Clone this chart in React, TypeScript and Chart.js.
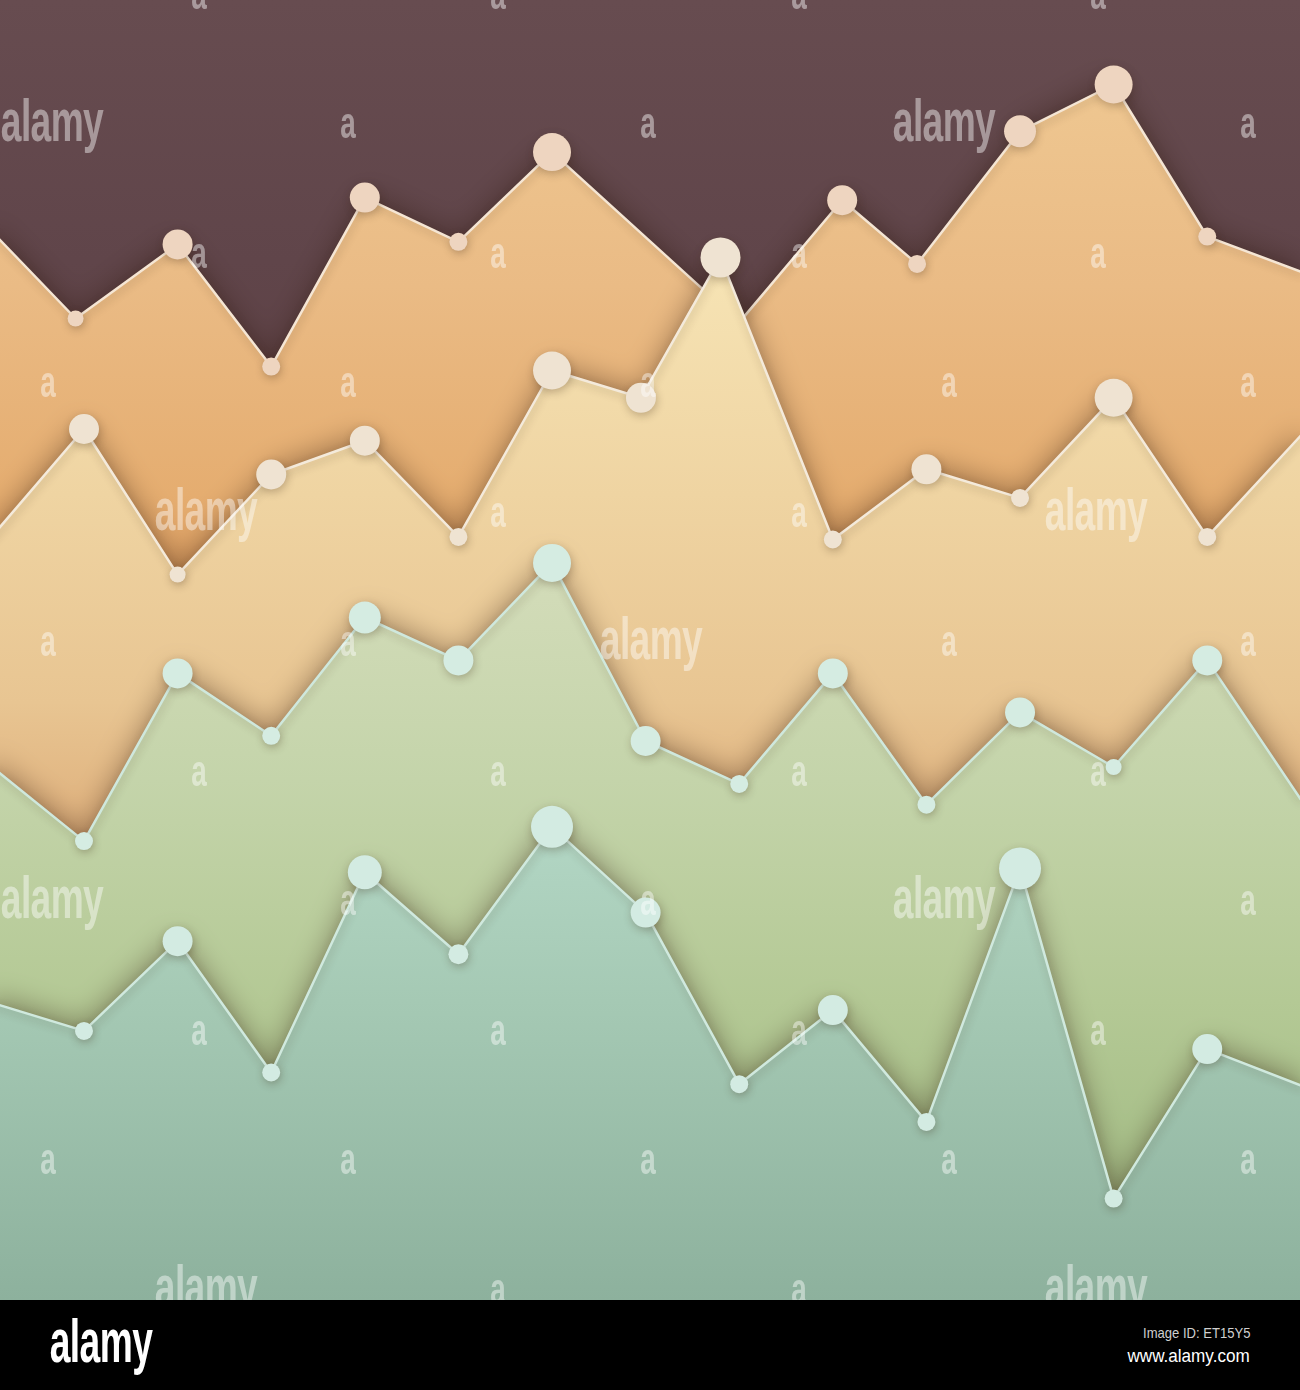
import React, { useEffect, useRef } from "react";
import { Chart, registerables } from "chart.js";

Chart.register(...registerables);

// ---- data (x in category-step units, y in value units 0..100) ----
const orangeX = [0, 0.91, 2, 3, 4, 5, 6, 8, 9.1, 9.9, 11, 12, 13, 14];
const orangeY = [82.3, 75.5, 81.2, 71.8, 84.8, 81.4, 88.3, 75.2, 84.6, 79.7, 89.9, 93.5, 81.8, 79.1];
const orangeR = [0, 8, 15, 9, 15, 9, 19, 0, 15, 9, 16, 19, 9, 0];

const sandX = [0, 1, 2, 3, 4, 5, 6, 6.95, 7.8, 9, 10, 11, 12, 13, 14];
const sandY = [58.6, 67.0, 55.8, 63.5, 66.1, 58.7, 71.5, 69.4, 80.2, 58.5, 63.9, 61.7, 69.4, 58.7, 66.5];
const sandR = [0, 15, 8, 15, 15, 9, 19, 15, 20, 9, 15, 9, 19, 9, 0];

const gridX = [0, 1, 2, 3, 4, 5, 6, 7, 8, 9, 10, 11, 12, 13, 14];
const greenY = [41.1, 35.3, 48.2, 43.4, 52.5, 49.2, 56.7, 43.0, 39.7, 48.2, 38.1, 45.2, 41.0, 49.2, 38.5];
const greenR = [0, 9, 15, 9, 16, 15, 19, 15, 9, 15, 9, 15, 8, 15, 0];

const tealY = [22.9, 20.7, 27.6, 17.5, 32.9, 26.6, 36.4, 29.8, 16.6, 22.3, 13.7, 33.2, 7.8, 19.3, 16.5];
const tealR = [0, 9, 15, 9, 17, 10, 21, 15, 9, 15, 9, 21, 9, 15, 0];

const X_MIN = 0.1026;
const X_MAX = 13.991;

function pts(xs: number[], ys: number[]) {
  return xs.map((x, i) => ({ x, y: ys[i] }));
}

function gradient(stops: [number, string][]) {
  return (context: any) => {
    const chart = context.chart;
    const area = chart.chartArea;
    if (!area) return stops[0][1];
    const g = chart.ctx.createLinearGradient(0, area.top, 0, area.bottom);
    stops.forEach(([p, c]) => g.addColorStop(p, c));
    return g;
  };
}

function setFillShadow(ctx: CanvasRenderingContext2D) {
  ctx.shadowColor = "rgba(45,22,10,0.38)";
  ctx.shadowBlur = 28;
  ctx.shadowOffsetX = 0;
  ctx.shadowOffsetY = -6;
}
function setMarkShadow(ctx: CanvasRenderingContext2D) {
  ctx.shadowColor = "rgba(60,40,20,0.28)";
  ctx.shadowBlur = 8;
  ctx.shadowOffsetX = 1;
  ctx.shadowOffsetY = 3;
}

const layerPlugin = {
  id: "layerPlugin",
  beforeDraw(chart: any) {
    const { ctx, width, height } = chart;
    const g = ctx.createLinearGradient(0, 0, 0, height);
    g.addColorStop(0, "#674c50");
    g.addColorStop(0.2, "#60454a");
    g.addColorStop(0.45, "#5b3d40");
    g.addColorStop(1, "#583a3d");
    ctx.save();
    ctx.fillStyle = g;
    ctx.fillRect(0, 0, width, height);
    ctx.restore();
  },
  beforeDatasetsDraw(chart: any) {
    chart.ctx.save();
    setFillShadow(chart.ctx);
  },
  beforeDatasetDraw(chart: any) {
    setMarkShadow(chart.ctx);
  },
  afterDatasetDraw(chart: any) {
    setFillShadow(chart.ctx);
  },
  afterDatasetsDraw(chart: any) {
    chart.ctx.restore();
  },
};

function layer(
  data: { x: number; y: number }[],
  radii: number[],
  fillStops: [number, string][],
  lineColor: string,
  pointColor: string,
  order: number
) {
  return {
    data,
    order,
    fill: "start",
    backgroundColor: gradient(fillStops),
    borderColor: lineColor,
    borderWidth: 2.5,
    borderJoinStyle: "round",
    tension: 0,
    pointRadius: radii,
    pointHoverRadius: radii,
    pointBackgroundColor: pointColor,
    pointBorderWidth: 0,
    pointBorderColor: pointColor,
  };
}

const wmOdd = [48, 348, 648, 949, 1248];
const wmEven = [199, 498, 799, 1098];
const wmWords: Record<string, number> = {
  "1:0": 4,
  "1:3": -5,
  "4:0": 7,
  "4:3": -2,
  "5:2": 3,
  "7:0": 4,
  "7:3": -5,
  "10:0": 7,
  "10:3": -2,
};

function watermarks() {
  const out: React.ReactNode[] = [];
  for (let r = 0; r <= 10; r++) {
    const cy = -3 + 129.5 * r;
    const cols = r % 2 === 1 ? wmOdd : wmEven;
    cols.forEach((cx, c) => {
      const key = `${r}:${c}`;
      const word = key in wmWords;
      const F = word ? 60 : 45;
      out.push(
        <div
          key={key}
          style={{
            position: "absolute",
            left: word ? cx + wmWords[key] : cx,
            top: cy - 0.587 * F,
            fontFamily: "'Liberation Sans', Arial, sans-serif",
            fontWeight: 700,
            fontSize: F,
            lineHeight: 1,
            whiteSpace: "nowrap",
            color: "rgba(255,255,255,0.44)",
            transform: `translateX(-50%) scaleX(${word ? 0.62 : 0.62})`,
            letterSpacing: word ? -1 : 0,
            pointerEvents: "none",
          }}
        >
          {word ? "alamy" : "a"}
        </div>
      );
    });
  }
  return out;
}

export default function App() {
  const ref = useRef<HTMLCanvasElement>(null);

  useEffect(() => {
    document.body.style.margin = "0";
    const chart = new Chart(ref.current as HTMLCanvasElement, {
      type: "line",
      data: {
        datasets: [
          layer(
            pts(orangeX, orangeY),
            orangeR,
            [
              [0.05, "#efc892"],
              [0.22, "#eabb85"],
              [0.38, "#e5ad70"],
              [0.45, "#dc9d60"],
            ],
            "#f5e6d4",
            "#eed5c0",
            4
          ) as any,
          layer(
            pts(sandX, sandY),
            sandR,
            [
              [0.19, "#f7e5b6"],
              [0.38, "#efd4a2"],
              [0.54, "#e8c592"],
              [0.66, "#ddac78"],
            ],
            "#f4eadb",
            "#efe3d2",
            3
          ) as any,
          layer(
            pts(gridX, greenY),
            greenR,
            [
              [0.44, "#d3dcb9"],
              [0.6, "#c4d4aa"],
              [0.77, "#b4c995"],
              [0.92, "#a3bc85"],
            ],
            "#cfe8dd",
            "#d5ece2",
            2
          ) as any,
          layer(
            pts(gridX, tealY),
            tealR,
            [
              [0.63, "#b3d7c5"],
              [0.77, "#a5c9b4"],
              [1.0, "#8db19d"],
            ],
            "#d0e9de",
            "#d3ebe2",
            1
          ) as any,
        ],
      },
      options: {
        responsive: false,
        animation: false,
        events: [],
        layout: { padding: 0 },
        scales: {
          x: { type: "linear", min: X_MIN, max: X_MAX, display: false },
          y: { type: "linear", min: 0, max: 100, display: false },
        },
        plugins: {
          legend: { display: false },
          tooltip: { enabled: false },
        },
      },
      plugins: [layerPlugin as any],
    });
    return () => chart.destroy();
  }, []);

  return (
    <div
      style={{
        position: "relative",
        width: 1300,
        height: 1390,
        background: "#000",
        overflow: "hidden",
      }}
    >
      <div style={{ position: "absolute", left: 0, top: 0, width: 1300, height: 1300 }}>
        <canvas ref={ref} width={1300} height={1300} style={{ display: "block" }} />
      </div>
      <div style={{ position: "absolute", left: 0, top: 0, width: 1300, height: 1300, overflow: "hidden" }}>
        {watermarks()}
      </div>
      <div
        style={{
          position: "absolute",
          left: 101,
          top: 1346 - 0.587 * 62,
          fontFamily: "'Liberation Sans', Arial, sans-serif",
          fontWeight: 700,
          fontSize: 62,
          lineHeight: 1,
          color: "#ffffff",
          whiteSpace: "nowrap",
          letterSpacing: -1,
          transform: "translateX(-50%) scaleX(0.6)",
        }}
      >
        alamy
      </div>
      <div
        style={{
          position: "absolute",
          right: 50,
          top: 1325,
          fontFamily: "'Liberation Sans', Arial, sans-serif",
          fontSize: 15,
          lineHeight: 1,
          color: "#d0d0d0",
          whiteSpace: "nowrap",
          transform: "scaleX(0.87)",
          transformOrigin: "right center",
        }}
      >
        Image ID: ET15Y5
      </div>
      <div
        style={{
          position: "absolute",
          right: 50,
          top: 1347,
          fontFamily: "'Liberation Sans', Arial, sans-serif",
          fontSize: 18,
          lineHeight: 1,
          color: "#ffffff",
          whiteSpace: "nowrap",
          transform: "scaleX(0.95)",
          transformOrigin: "right center",
        }}
      >
        www.alamy.com
      </div>
    </div>
  );
}
